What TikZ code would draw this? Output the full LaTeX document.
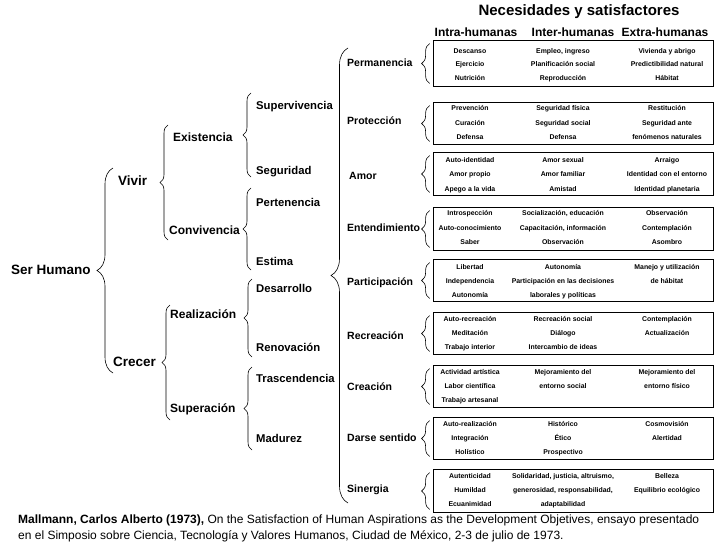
\documentclass[tikz,border=0pt]{standalone}
\usepackage{fontspec}
\setmainfont{Liberation Sans}
\usetikzlibrary{decorations.pathreplacing}
\newcommand\tabrow[5]{%
  \node[tx] (#1a) at (470,#2) {#3};
  \node[tx] (#1b) at (563,#2) {#4};
  \node[tx] (#1c) at (667,#2) {#5};}
\begin{document}
\begin{tikzpicture}[x=1pt,y=-1pt,
  lvA/.style={font=\bfseries\fontsize{13.5}{15}\selectfont, anchor=west, inner sep=0, text height=10pt, text depth=3pt},
  lvB/.style={font=\bfseries\fontsize{12}{14}\selectfont, anchor=west, inner sep=0, text height=9pt, text depth=2.6pt},
  lvC/.style={font=\bfseries\fontsize{11.3}{13}\selectfont, anchor=west, inner sep=0, text height=8.4pt, text depth=2.4pt},
  lvD/.style={font=\bfseries\fontsize{10.5}{12}\selectfont, anchor=west, inner sep=0, text height=7.9pt, text depth=2.2pt},
  hdr/.style={font=\bfseries\fontsize{12}{14}\selectfont, inner sep=0, text height=9pt, text depth=2.6pt},
  ttl/.style={font=\bfseries\fontsize{15}{17}\selectfont, inner sep=0, text height=11pt, text depth=3.2pt},
  tx/.style={font=\bfseries\fontsize{6.9}{8}\selectfont, inner sep=0, text height=5.2pt, text depth=1.5pt},
  tbox/.style={draw, line width=0.8pt, minimum width=280pt, inner sep=0},
  brc/.style={decorate, decoration={brace, amplitude=#1}, line width=0.6pt},
  foot/.style={font=\fontsize{12}{14}\selectfont, anchor=west, inner sep=0, text height=9pt, text depth=2.6pt}]
\useasboundingbox (0,0) rectangle (728,546);
\fill[white] (0,0) rectangle (728,546);

% headings
\node[ttl] (title) at (579,12) {Necesidades y satisfactores};
\node[hdr] (h1) at (476,33) {Intra-humanas};
\node[hdr] (h2) at (573,33) {Inter-humanas};
\node[hdr] (h3) at (665,33) {Extra-humanas};

% left hierarchy
\node[lvA] (ser) at (11,271) {Ser Humano};
\node[lvA] (vivir) at (118,182) {Vivir};
\node[lvA] (crecer) at (113,363) {Crecer};
\node[lvB] (exist) at (173,138) {Existencia};
\node[lvB] (conviv) at (169,231) {Convivencia};
\node[lvB] (realiz) at (170,315) {Realización};
\node[lvB] (super) at (170,409) {Superación};
\node[lvC] (superv) at (256,106) {Supervivencia};
\node[lvC] (segur) at (256,171) {Seguridad};
\node[lvC] (perten) at (256,203) {Pertenencia};
\node[lvC] (estima) at (256,262) {Estima};
\node[lvC] (desarr) at (256,289) {Desarrollo};
\node[lvC] (renov) at (256,348) {Renovación};
\node[lvC] (trasc) at (256,379) {Trascendencia};
\node[lvC] (madur) at (256,439) {Madurez};

% needs
\node[lvD] (n1) at (347,64) {Permanencia};
\node[lvD] (n2) at (347,122) {Protección};
\node[lvD] (n3) at (349,177) {Amor};
\node[lvD] (n4) at (347,229) {Entendimiento};
\node[lvD] (n5) at (347,283) {Participación};
\node[lvD] (n6) at (347,337) {Recreación};
\node[lvD] (n7) at (347,388) {Creación};
\node[lvD] (n8) at (347,439) {Darse sentido};
\node[lvD] (n9) at (347,490) {Sinergia};

% brace end points
\coordinate (serT) at (113,168);   \coordinate (serB) at (113,373);
\coordinate (vivT) at (168,125);   \coordinate (vivB) at (168,240);
\coordinate (creT) at (170,305);   \coordinate (creB) at (170,420);
\coordinate (exiT) at (251,93);    \coordinate (exiB) at (251,177);
\coordinate (conT) at (251,188);   \coordinate (conB) at (251,270);
\coordinate (reaT) at (252,279);   \coordinate (reaB) at (252,357);
\coordinate (supT) at (252,367);   \coordinate (supB) at (252,450);
\coordinate (bigT) at (348,48);    \coordinate (bigB) at (348,503);

\draw[brc=16] (serB) -- (serT);
\draw[brc=8] (vivB) -- (vivT);
\draw[brc=8] (creB) -- (creT);
\draw[brc=8] (exiB) -- (exiT);
\draw[brc=8] (conB) -- (conT);
\draw[brc=8] (reaB) -- (reaT);
\draw[brc=8] (supB) -- (supT);
\draw[brc=17] (bigB) -- (bigT);

% boxes
\node[tbox, minimum height=46pt] (box1) at (573,63) {};
\node[tbox, minimum height=42pt] (box2) at (573,123) {};
\node[tbox, minimum height=43pt] (box3) at (573,173.5) {};
\node[tbox, minimum height=43pt] (box4) at (573,228.5) {};
\node[tbox, minimum height=42pt] (box5) at (573,280) {};
\node[tbox, minimum height=42pt] (box6) at (573,333) {};
\node[tbox, minimum height=42pt] (box7) at (573,386) {};
\node[tbox, minimum height=42pt] (box8) at (573,438) {};
\node[tbox, minimum height=43pt] (box9) at (573,490.5) {};

\foreach \b in {1,...,9}{
  \draw[brc=8] ([xshift=-3pt,yshift=3pt]box\b.south west) -- ([xshift=-3pt,yshift=-4pt]box\b.north west);
}

% box contents
\tabrow{r11}{52}{Descanso}{Empleo, ingreso}{Vivienda y abrigo}
\tabrow{r12}{64.5}{Ejercicio}{Planificación social}{Predictibilidad natural}
\tabrow{r13}{79}{Nutrición}{Reproducción}{Hábitat}

\tabrow{r21}{109}{Prevención}{Seguridad física}{Restitución}
\tabrow{r22}{124}{Curación}{Seguridad social}{Seguridad ante}
\tabrow{r23}{138}{Defensa}{Defensa}{fenómenos naturales}

\tabrow{r31}{161}{Auto-identidad}{Amor sexual}{Arraigo}
\tabrow{r32}{175}{Amor propio}{Amor familiar}{Identidad con el entorno}
\tabrow{r33}{190}{Apego a la vida}{Amistad}{Identidad planetaria}

\tabrow{r41}{214}{Introspección}{Socialización, educación}{Observación}
\tabrow{r42}{229}{Auto-conocimiento}{Capacitación, información}{Contemplación}
\tabrow{r43}{243}{Saber}{Observación}{Asombro}

\tabrow{r51}{268}{Libertad}{Autonomía}{Manejo y utilización}
\tabrow{r52}{282}{Independencia}{Participación en las decisiones}{de hábitat}
\tabrow{r53}{296}{Autonomía}{laborales y políticas}{}

\tabrow{r61}{320}{Auto-recreación}{Recreación social}{Contemplación}
\tabrow{r62}{334}{Meditación}{Diálogo}{Actualización}
\tabrow{r63}{348}{Trabajo interior}{Intercambio de ideas}{}

\tabrow{r71}{373}{Actividad artística}{Mejoramiento del}{Mejoramiento del}
\tabrow{r72}{387}{Labor científica}{entorno social}{entorno físico}
\tabrow{r73}{401}{Trabajo artesanal}{}{}

\tabrow{r81}{425}{Auto-realización}{Histórico}{Cosmovisión}
\tabrow{r82}{439}{Integración}{Ético}{Alertidad}
\tabrow{r83}{453}{Holístico}{Prospectivo}{}

\tabrow{r91}{477}{Autenticidad}{Solidaridad, justicia, altruismo,}{Belleza}
\tabrow{r92}{491}{Humildad}{generosidad, responsabilidad,}{Equilibrio ecológico}
\tabrow{r93}{505}{Ecuanimidad}{adaptabilidad}{}

% footer
\node[foot] (f1) at (18,520) {\textbf{Mallmann, Carlos Alberto (1973),} On the Satisfaction of Human Aspirations as the Development Objetives, ensayo presentado};
\node[foot] (f2) at (18,536) {en el Simposio sobre Ciencia, Tecnología y Valores Humanos, Ciudad de México, 2-3 de julio de 1973.};
\end{tikzpicture}
\end{document}
